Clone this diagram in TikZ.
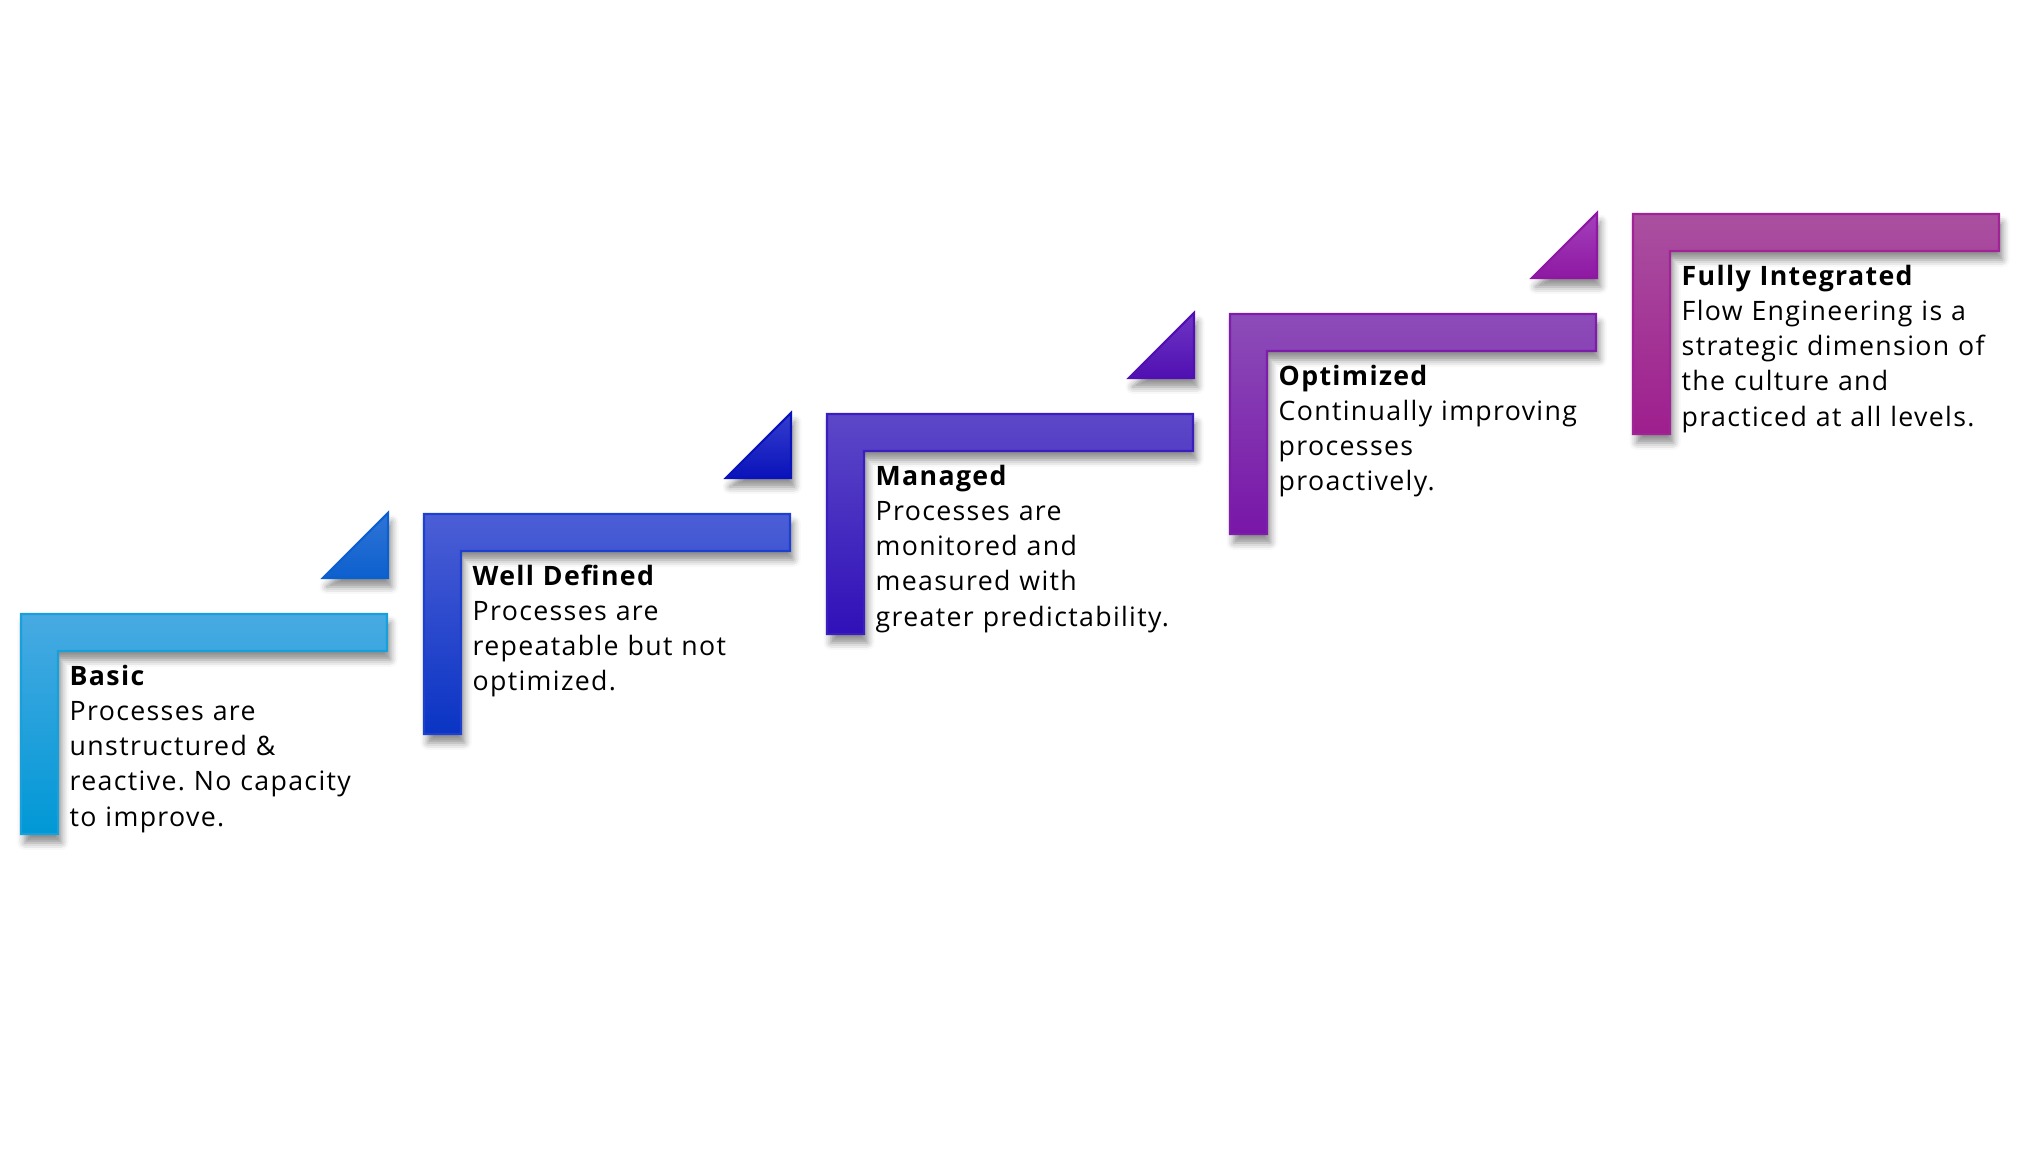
\documentclass[tikz,border=0pt]{standalone}
\usepackage{fontspec}
\setmainfont[LetterSpace=5]{Open Sans}
\usepackage{tikz}
\usetikzlibrary{shadows.blur}
\usepackage{xcolor}
\definecolor{basictop}{RGB}{72,170,226}
\definecolor{basicbot}{RGB}{0,152,214}
\definecolor{basicline}{RGB}{24,160,218}
\definecolor{welltop}{RGB}{76,94,214}
\definecolor{wellbot}{RGB}{10,52,196}
\definecolor{wellline}{RGB}{30,64,206}
\definecolor{mantop}{RGB}{92,72,200}
\definecolor{manbot}{RGB}{48,16,184}
\definecolor{manline}{RGB}{60,30,190}
\definecolor{opttop}{RGB}{140,76,184}
\definecolor{optbot}{RGB}{120,22,168}
\definecolor{optline}{RGB}{124,30,170}
\definecolor{fullytop}{RGB}{170,80,160}
\definecolor{fullybot}{RGB}{158,30,142}
\definecolor{fullyline}{RGB}{160,36,150}
\definecolor{tria}{RGB}{12,96,206}
\definecolor{triatop}{RGB}{48,116,214}
\definecolor{trib}{RGB}{10,18,186}
\definecolor{tribtop}{RGB}{52,62,206}
\definecolor{tric}{RGB}{80,16,178}
\definecolor{trictop}{RGB}{110,52,196}
\definecolor{trid}{RGB}{142,24,162}
\definecolor{tridtop}{RGB}{164,64,188}
\frenchspacing

\begin{document}
\begin{tikzpicture}[
	stair/.style={line width=0.6pt, blur shadow={shadow xshift=1pt, shadow yshift=-2.5pt, shadow blur radius=2pt, shadow opacity=45}},
	stagetext/.style={anchor=base west, text width=3.6cm, align=left, inner sep=0pt, font=\fontsize{7.6}{9.96}\selectfont}
]
	\useasboundingbox (0,0) rectangle (20.22,11.55);
	
	% the five L shaped steps
	\draw[stair, draw=basicline, top color=basictop, bottom color=basicbot] (0.21,5.41) -- ++(3.66,0) -- ++(0,-0.37) -- ++(-3.29,0) -- ++(0,-1.83) -- ++(-0.37,0) -- cycle;
	\draw[stair, draw=wellline, top color=welltop, bottom color=wellbot] (4.24,6.41) -- ++(3.66,0) -- ++(0,-0.37) -- ++(-3.29,0) -- ++(0,-1.83) -- ++(-0.37,0) -- cycle;
	\draw[stair, draw=manline, top color=mantop, bottom color=manbot] (8.27,7.41) -- ++(3.66,0) -- ++(0,-0.37) -- ++(-3.29,0) -- ++(0,-1.83) -- ++(-0.37,0) -- cycle;
	\draw[stair, draw=optline, top color=opttop, bottom color=optbot] (12.30,8.41) -- ++(3.66,0) -- ++(0,-0.37) -- ++(-3.29,0) -- ++(0,-1.83) -- ++(-0.37,0) -- cycle;
	\draw[stair, draw=fullyline, top color=fullytop, bottom color=fullybot] (16.33,9.41) -- ++(3.66,0) -- ++(0,-0.37) -- ++(-3.29,0) -- ++(0,-1.83) -- ++(-0.37,0) -- cycle;
	
	% triangles between the steps
	\draw[stair, draw=tria, top color=triatop, bottom color=tria] (3.23,5.77) -- (3.88,6.42) -- (3.88,5.77) -- cycle;
	\draw[stair, draw=trib, top color=tribtop, bottom color=trib] (7.26,6.77) -- (7.91,7.42) -- (7.91,6.77) -- cycle;
	\draw[stair, draw=tric, top color=trictop, bottom color=tric] (11.29,7.77) -- (11.94,8.42) -- (11.94,7.77) -- cycle;
	\draw[stair, draw=trid, top color=tridtop, bottom color=trid] (15.32,8.77) -- (15.97,9.42) -- (15.97,8.77) -- cycle;
	
	\node[stagetext] (basic) at (0.69,4.69) {\textbf{Basic}\\Processes are\\unstructured \&\\reactive. No capacity\\to improve.};
	\node[stagetext] (welldefined) at (4.72,5.69) {\textbf{Well Defined}\\Processes are\\repeatable but not\\optimized.};
	\node[stagetext] (managed) at (8.75,6.69) {\textbf{Managed}\\Processes are\\monitored and\\measured with\\greater predictability.};
	\node[stagetext] (optimized) at (12.78,7.69) {\textbf{Optimized}\\Continually improving\\processes\\proactively.};
	\node[stagetext] (fully) at (16.81,8.69) {\textbf{Fully Integrated}\\Flow Engineering is a\\strategic dimension of\\the culture and\\practiced at all levels.};
	
\end{tikzpicture}
\end{document}
